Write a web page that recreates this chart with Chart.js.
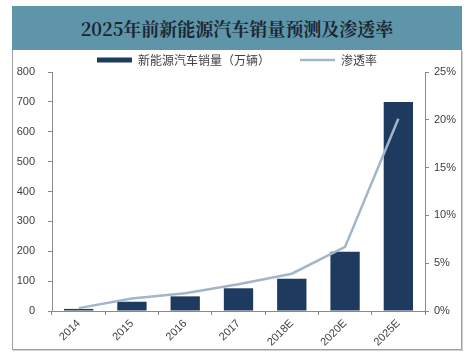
<!DOCTYPE html>
<html><head><meta charset="utf-8">
<script src="https://cdn.jsdelivr.net/npm/chart.js@4/dist/chart.umd.min.js"></script>
<style>
html,body{margin:0;padding:0;background:#fff;width:474px;height:355px;overflow:hidden;}
#wrap{position:absolute;left:12px;top:6px;width:450px;height:345px;}
#band{position:absolute;left:0;top:0;width:450px;height:44px;background:#5e95a9;display:flex;align-items:center;justify-content:center;
 font-family:"Noto Serif CJK SC","Noto Sans CJK SC",serif;font-weight:bold;font-size:18px;color:#1b2733;}
#box{position:absolute;left:0;top:44px;width:448px;height:299px;border:1px solid #a0a0a0;border-top:none;box-shadow:1px 1px 0 #d0d0d0;}
#c{position:absolute;left:0;top:0;}
</style></head>
<body>
<div id="wrap">
 <div id="band">2025年前新能源汽车销量预测及渗透率</div>
 <div id="box"><canvas id="c" width="448" height="299"></canvas></div>
</div>
<script>
const categories = ["2014","2015","2016","2017","2018E","2020E","2025E"];
const salesValues = [7, 31, 49, 76, 108, 198, 700];
const penetrationValues = [0.3, 1.3, 1.85, 2.8, 3.9, 6.7, 20.1];
const leftTicks = [0,100,200,300,400,500,600,700,800];
const rightTicks = [0,5,10,15,20,25];

const tickFont = {family:"Liberation Sans, Arial, sans-serif", size:11};
const tickColor = "#404040";
const axisColor = "#8a8a8a";

const legendHeightPlugin = {
  id:'legendHeight',
  beforeInit(chart){
    const orig = chart.legend.fit;
    chart.legend.fit = function(){ orig.call(this); this.height = 22; };
  }
};

new Chart(document.getElementById('c'), {
  data: {
    labels: categories,
    datasets: [
      {type:'bar', label:'新能源汽车销量（万辆）', data: salesValues, backgroundColor:'#1f3a5f', borderWidth:0,
       yAxisID:'y', order:1, barPercentage:0.55, categoryPercentage:1.0, pointStyle:'rect'},
      {type:'line', label:'渗透率', data: penetrationValues, borderColor:'#a3b6c9', backgroundColor:'#a3b6c9',
       borderWidth:2.5, pointRadius:0, tension:0, yAxisID:'y1', order:0, pointStyle:'line'}
    ]
  },
  plugins:[legendHeightPlugin],
  options: {
    responsive:false, animation:false,
    layout:{padding:0},
    plugins:{
      tooltip:{enabled:false},
      legend:{display:true, position:'top',
        labels:{usePointStyle:true, pointStyleWidth:35, boxWidth:35, boxHeight:5, padding:4,
          font:{family:"Noto Sans CJK SC", size:12}, color:'#404040',
          sort:(a,b)=>a.datasetIndex-b.datasetIndex,
          generateLabels:(chart)=>{
            const items = Chart.defaults.plugins.legend.labels.generateLabels(chart);
            items.forEach(it=>{ if(it.datasetIndex===0){ it.text = it.text + '\u3000\u3000   '; } });
            return items;
          }
        }
      }
    },
    scales:{
      x:{offset:true,
        grid:{offset:true, drawOnChartArea:false, drawTicks:true, tickLength:4, color:axisColor},
        border:{display:true, color:axisColor},
        ticks:{font:tickFont, color:tickColor, minRotation:45, maxRotation:45, padding:2, autoSkip:false},
        afterFit:(s)=>{s.height=38;}
      },
      y:{position:'left', min:0, max:800,
        afterBuildTicks:(s)=>{s.ticks = leftTicks.map(v=>({value:v}));},
        grid:{drawOnChartArea:false, drawTicks:true, tickLength:4, color:axisColor},
        border:{display:true, color:axisColor},
        ticks:{font:tickFont, color:tickColor, padding:13},
        afterFit:(s)=>{s.width=39;}
      },
      y1:{position:'right', min:0, max:25,
        afterBuildTicks:(s)=>{s.ticks = rightTicks.map(v=>({value:v}));},
        grid:{drawOnChartArea:false, drawTicks:true, tickLength:4, color:axisColor},
        border:{display:true, color:axisColor},
        ticks:{font:tickFont, color:tickColor, padding:5, callback:(v)=>v+'%'},
        afterFit:(s)=>{s.width=36;}
      }
    }
  }
});
</script>
</body></html>
